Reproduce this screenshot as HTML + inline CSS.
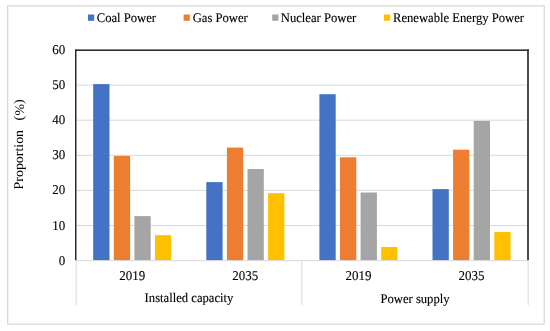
<!DOCTYPE html>
<html><head><meta charset="utf-8"><style>
html,body{margin:0;padding:0;background:#fff;}
body{width:550px;height:331px;overflow:hidden;}
svg{display:block;will-change:transform;}
text{text-rendering:geometricPrecision;font-family:"Liberation Serif",serif;font-size:12.65px;fill:#000;stroke:#000;stroke-width:0.12px;}
text.t{font-size:13px;stroke-width:0.1px;}
</style></head><body>
<svg width="550" height="331" viewBox="0 0 550 331">
<rect x="0" y="0" width="550" height="331" fill="#fff"/>
<rect x="7.7" y="5.9" width="536.5" height="318.2" fill="none" stroke="#D2D2D2" stroke-width="1.1"/>
<line x1="77" x2="527" y1="225.50" y2="225.50" stroke="#D9D9D9" stroke-width="1"/><line x1="77" x2="527" y1="190.40" y2="190.40" stroke="#D9D9D9" stroke-width="1"/><line x1="77" x2="527" y1="155.30" y2="155.30" stroke="#D9D9D9" stroke-width="1"/><line x1="77" x2="527" y1="120.20" y2="120.20" stroke="#D9D9D9" stroke-width="1"/><line x1="77" x2="527" y1="85.10" y2="85.10" stroke="#D9D9D9" stroke-width="1"/>
<rect x="93.20" y="84.10" width="16.3" height="176.50" fill="#4472C4"/><rect x="113.80" y="155.90" width="16.3" height="104.70" fill="#ED7D31"/><rect x="134.40" y="216.10" width="16.3" height="44.50" fill="#A5A5A5"/><rect x="155.00" y="235.20" width="16.3" height="25.40" fill="#FFC000"/><rect x="206.30" y="182.10" width="16.3" height="78.50" fill="#4472C4"/><rect x="226.90" y="147.60" width="16.3" height="113.00" fill="#ED7D31"/><rect x="247.50" y="169.00" width="16.3" height="91.60" fill="#A5A5A5"/><rect x="268.10" y="193.20" width="16.3" height="67.40" fill="#FFC000"/><rect x="319.40" y="94.20" width="16.3" height="166.40" fill="#4472C4"/><rect x="340.00" y="157.30" width="16.3" height="103.30" fill="#ED7D31"/><rect x="360.60" y="192.50" width="16.3" height="68.10" fill="#A5A5A5"/><rect x="381.20" y="247.00" width="16.3" height="13.60" fill="#FFC000"/><rect x="432.50" y="189.10" width="16.3" height="71.50" fill="#4472C4"/><rect x="453.10" y="149.70" width="16.3" height="110.90" fill="#ED7D31"/><rect x="473.70" y="120.90" width="16.3" height="139.70" fill="#A5A5A5"/><rect x="494.30" y="232.00" width="16.3" height="28.60" fill="#FFC000"/>
<line x1="76" x2="528" y1="260.6" y2="260.6" stroke="#D9D9D9" stroke-width="1"/>
<line x1="76.2" x2="76.2" y1="260" y2="305.3" stroke="#D9D9D9" stroke-width="1"/>
<line x1="301.9" x2="301.9" y1="260" y2="305.3" stroke="#D9D9D9" stroke-width="1"/>
<line x1="528.1" x2="528.1" y1="260" y2="305.3" stroke="#D9D9D9" stroke-width="1"/>
<rect x="75" y="49.4" width="1.5" height="210.8" fill="#2a2a2a"/><rect x="75" y="49.4" width="454" height="1.6" fill="#2e2e2e"/><rect x="527.1" y="49.4" width="1.8" height="210.8" fill="#383838"/>
<text transform="translate(65.30,265.00) scale(1,1.035)" text-anchor="end" class="t">0</text><text transform="translate(65.30,230.00) scale(1,1.035)" text-anchor="end" class="t">10</text><text transform="translate(65.30,194.00) scale(1,1.035)" text-anchor="end" class="t">20</text><text transform="translate(65.30,159.00) scale(1,1.035)" text-anchor="end" class="t">30</text><text transform="translate(65.30,124.00) scale(1,1.035)" text-anchor="end" class="t">40</text><text transform="translate(65.30,89.00) scale(1,1.035)" text-anchor="end" class="t">50</text><text transform="translate(65.30,54.00) scale(1,1.035)" text-anchor="end" class="t">60</text>
<text transform="translate(132.25,279.60) scale(1,1.035)" text-anchor="middle" class="t">2019</text><text transform="translate(245.35,279.60) scale(1,1.035)" text-anchor="middle" class="t">2035</text><text transform="translate(358.45,279.60) scale(1,1.035)" text-anchor="middle" class="t">2019</text><text transform="translate(471.55,279.60) scale(1,1.035)" text-anchor="middle" class="t">2035</text>
<text transform="translate(189.00,302.40) scale(1,1.035)" text-anchor="middle">Installed capacity</text>
<text transform="translate(415.00,302.50) scale(1,1.035)" text-anchor="middle">Power supply</text>
<rect x="88" y="14.5" width="6.2" height="6.3" fill="#4472C4"/><text transform="translate(96.70,21.60) scale(1,1.035)">Coal Power</text><rect x="183.6" y="14.5" width="6.2" height="6.3" fill="#ED7D31"/><text transform="translate(192.70,21.60) scale(1,1.035)">Gas Power</text><rect x="272.2" y="14.5" width="6.2" height="6.3" fill="#A5A5A5"/><text transform="translate(280.80,21.60) scale(1,1.035)">Nuclear Power</text><rect x="384" y="14.5" width="6.2" height="6.3" fill="#FFC000"/><text transform="translate(393.00,21.60) scale(1,1.035)">Renewable Energy Power</text>
<text transform="translate(23,189.4) rotate(-90) scale(1.045,1)" style="font-size:13.3px;stroke:none">Proportion<tspan dx="9.1">(</tspan><tspan dx="0.2" dy="0.7">%</tspan><tspan dx="0.1" dy="-0.7">)</tspan></text>
</svg>
</body></html>
